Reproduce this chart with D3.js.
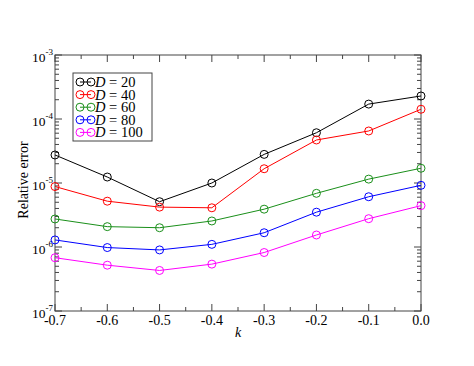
<!DOCTYPE html>
<html>
<head>
<meta charset="utf-8">
<script src="https://d3js.org/d3.v7.min.js"></script>
<style>
  body { margin: 0; background: #fff; }
  svg text { font-family: "Liberation Serif", "DejaVu Serif", serif; }
</style>
</head>
<body>
<script>
// data
var kValues = [-0.7, -0.6, -0.5, -0.4, -0.3, -0.2, -0.1, 0.0];
var seriesNames = ["20", "40", "60", "80", "100"];
var seriesColors = ["#000000", "#ff0000", "#1a8f1a", "#0000ff", "#ff00ff"];
var errD20  = [2.74e-5, 1.24e-5, 5.1e-6, 1.0e-5, 2.8e-5, 6.1e-5, 1.71e-4, 2.29e-4];
var errD40  = [8.8e-6, 5.2e-6, 4.2e-6, 4.1e-6, 1.67e-5, 4.7e-5, 6.5e-5, 1.42e-4];
var errD60  = [2.74e-6, 2.08e-6, 2.0e-6, 2.55e-6, 3.9e-6, 6.9e-6, 1.15e-5, 1.7e-5];
var errD80  = [1.29e-6, 9.8e-7, 9.0e-7, 1.1e-6, 1.67e-6, 3.5e-6, 6.1e-6, 9.2e-6];
var errD100 = [6.8e-7, 5.2e-7, 4.3e-7, 5.4e-7, 8.2e-7, 1.54e-6, 2.77e-6, 4.43e-6];
var xTicks = [-0.7, -0.6, -0.5, -0.4, -0.3, -0.2, -0.1, 0.0];
var yTickExp = [-7, -6, -5, -4, -3];

var allSeries = [errD20, errD40, errD60, errD80, errD100];

var W = 474, H = 366;
var margin = {top: 55, right: 53, bottom: 55, left: 55};
var width = W - margin.left - margin.right,
    height = H - margin.top - margin.bottom;

var svg = d3.select("body").append("svg")
    .attr("width", W)
    .attr("height", H);

var g = svg.append("g")
    .attr("transform", "translate(" + margin.left + "," + margin.top + ")");

var x = d3.scaleLinear().domain([-0.7, 0.0]).range([0, width]);
var y = d3.scaleLog().domain([1e-7, 1e-3]).range([height, 0]);

var axisColor = "#444";

// frame
g.append("rect")
    .attr("width", width).attr("height", height)
    .attr("fill", "none").attr("stroke", axisColor).attr("stroke-width", 1);

// x ticks (inward, bottom and top)
var xMinor = d3.range(-0.65, 0.0, 0.1);
function xTickLines(vals, len) {
  vals.forEach(function(v) {
    g.append("line").attr("x1", x(v)).attr("x2", x(v))
      .attr("y1", height).attr("y2", height - len)
      .attr("stroke", axisColor);
    g.append("line").attr("x1", x(v)).attr("x2", x(v))
      .attr("y1", 0).attr("y2", len)
      .attr("stroke", axisColor);
  });
}
xTickLines(xTicks, 7);
xTickLines(xMinor, 4);

g.selectAll(".xlab").data(xTicks).enter().append("text")
    .attr("x", d => x(d))
    .attr("y", height + 14)
    .attr("text-anchor", "middle")
    .style("font-size", "14px")
    .text(d => d.toFixed(1).replace("-0.0", "0.0"));

// y ticks (log, inward, left and right)
var yMinor = [];
for (var e = -7; e < -3; e++) {
  for (var m = 2; m <= 9; m++) yMinor.push(m * Math.pow(10, e));
}
function yTickLines(vals, len) {
  vals.forEach(function(v) {
    g.append("line").attr("y1", y(v)).attr("y2", y(v))
      .attr("x1", 0).attr("x2", len).attr("stroke", axisColor);
    g.append("line").attr("y1", y(v)).attr("y2", y(v))
      .attr("x1", width).attr("x2", width - len).attr("stroke", axisColor);
  });
}
yTickLines(yTickExp.map(e => Math.pow(10, e)), 7);
yTickLines(yMinor, 4);

var ylab = g.selectAll(".ylab").data(yTickExp).enter().append("text")
    .attr("x", -2)
    .attr("y", d => y(Math.pow(10, d)) + 7)
    .attr("text-anchor", "end")
    .style("font-size", "13.5px");
ylab.append("tspan").text("10");
ylab.append("tspan").attr("dy", -7).style("font-size", "9px").text(d => "-" + (-d));

// axis titles
svg.append("text")
    .attr("transform", "translate(28," + (margin.top + height / 2 - 3) + ") rotate(-90)")
    .attr("text-anchor", "middle")
    .style("font-size", "14px")
    .text("Relative error");

svg.append("text")
    .attr("x", margin.left + width / 2)
    .attr("y", 337)
    .attr("text-anchor", "middle")
    .style("font-size", "14px")
    .style("font-style", "italic")
    .text("k");

// series
var line = d3.line()
    .x((d, i) => x(kValues[i]))
    .y(d => y(d));

allSeries.forEach(function(s, si) {
  g.append("path")
    .datum(s)
    .attr("fill", "none")
    .attr("stroke", seriesColors[si])
    .attr("stroke-width", 1)
    .attr("d", line);
  g.selectAll(".pt" + si).data(s).enter().append("circle")
    .attr("cx", (d, i) => x(kValues[i]))
    .attr("cy", d => y(d))
    .attr("r", 4)
    .attr("fill", "none")
    .attr("stroke", seriesColors[si])
    .attr("stroke-width", 1);
});

// legend
var lg = svg.append("g").attr("transform", "translate(73,73)");
lg.append("rect")
    .attr("width", 79).attr("height", 68)
    .attr("fill", "#fff").attr("stroke", axisColor);
seriesNames.forEach(function(nm, i) {
  var ry = 9 + i * 12.6;
  lg.append("line").attr("x1", 7).attr("x2", 18).attr("y1", ry).attr("y2", ry)
    .attr("stroke", seriesColors[i]);
  [7, 18].forEach(function(cx) {
    lg.append("circle").attr("cx", cx).attr("cy", ry).attr("r", 4)
      .attr("fill", "none").attr("stroke", seriesColors[i]);
  });
  var t = lg.append("text").attr("x", 22).attr("y", ry + 5)
    .style("font-size", "14.5px");
  t.append("tspan").style("font-style", "italic").text("D");
  t.append("tspan").text(" = " + nm);
});
</script>
</body>
</html>
